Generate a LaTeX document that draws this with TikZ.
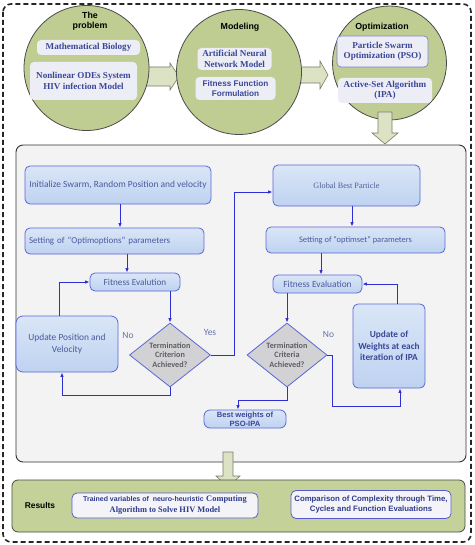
\documentclass[tikz,border=0pt]{standalone}
\usepackage{fontspec}
\setmainfont{Liberation Serif}
\setsansfont{Liberation Sans}
\newfontfamily\calib{Carlito}
\usetikzlibrary{shapes.geometric,arrows.meta}
\definecolor{circfill}{HTML}{BFCD93}
\definecolor{circdraw}{HTML}{4A4A4A}
\definecolor{pillfill}{HTML}{EDEDF6}
\definecolor{pilltext}{HTML}{3A4798}
\definecolor{arrfill}{HTML}{DCE3C4}
\definecolor{arrdraw}{HTML}{7A7A6A}
\definecolor{bigfill}{HTML}{F3F3F3}
\definecolor{flowtop}{HTML}{DAE6F7}
\definecolor{flowbot}{HTML}{BED2F0}
\definecolor{flowdraw}{HTML}{5A68D8}
\definecolor{flowtext}{HTML}{4A5A9E}
\definecolor{diafill}{HTML}{D2D2D4}
\definecolor{diatext}{HTML}{5E5E66}
\definecolor{connc}{HTML}{2F2FD6}
\definecolor{resfill}{HTML}{C4D29A}
\definecolor{resbox}{HTML}{F4F4F8}
\definecolor{resdraw}{HTML}{5A5AD0}
\definecolor{restext}{HTML}{2E3A8E}
\tikzset{
  x=1pt, y=-1pt,
  circ/.style={circle, draw=circdraw, fill=circfill, line width=0.8pt, inner sep=0pt},
  head/.style={font=\sffamily\bfseries\fontsize{8.8}{10}\selectfont, text=black, align=center, inner sep=0pt},
  pill/.style={fill=pillfill, rounded corners=4pt, inner sep=0pt, text=pilltext, align=center,
     font=\rmfamily\bfseries\fontsize{9.1}{10.5}\selectfont},
  pillsans/.style={pill, font=\sffamily\bfseries\fontsize{8.2}{10.5}\selectfont},
  blockarrow/.style={fill=arrfill, draw=arrdraw, line width=0.6pt, line join=miter},
  bigbox/.style={draw=black!80, fill=bigfill, line width=0.9pt, rounded corners=7pt},
  fbox/.style={draw=flowdraw, top color=flowtop, bottom color=flowbot, line width=0.8pt, rounded corners=5pt, inner sep=0pt,
     text=flowtext, align=center, font=\calib\fontsize{9.2}{11}\selectfont},
  dia/.style={diamond, draw=flowdraw, fill=diafill, line width=0.8pt, inner sep=0pt},
  diatxt/.style={text=diatext, align=center, inner sep=0pt, font=\calib\bfseries\fontsize{8.2}{9.4}\selectfont},
  conn/.style={draw=connc, line width=0.9pt, -{Latex[length=4.5pt,width=3.5pt]}},
  lab/.style={text=flowtext!85, font=\calib\fontsize{9.5}{11}\selectfont, inner sep=0pt},
  rbox/.style={draw=resdraw, fill=resbox, line width=0.8pt, rounded corners=5pt, inner sep=0pt,
     text=restext, align=center},
}
\begin{document}
\begin{tikzpicture}
\useasboundingbox (0,0) rectangle (474,545);
% outer dashed frame
\draw[black!85, line width=1.6pt, dash pattern=on 5pt off 3pt, rounded corners=8pt] (3,4) rectangle (471,542);

% block arrows between circles
\draw[blockarrow] (140,67) -- (170,67) -- (170,63) -- (179,76.5) -- (170,90) -- (170,86) -- (140,86) -- cycle;
\draw[blockarrow] (296,67) -- (320,67) -- (320,61) -- (328,75) -- (320,89) -- (320,83) -- (296,83) -- cycle;

% circles
\node[circ, minimum size=125pt] (c1) at (86.5,68) {};
\node[circ, minimum size=125pt] (c2) at (239,72) {};
\node[circ, minimum size=114pt] (c3) at (389.5,63) {};

% arrow from circle 3 down
\draw[blockarrow] (378,112) -- (392,112) -- (392,133) -- (398,133) -- (385,144) -- (372,133) -- (378,133) -- cycle;

% circle contents
\node[head] (h1) at (90,21.5) {The\\problem};
\node[pill, minimum width=103pt, minimum height=15pt] (p11) at (88.5,47.5) {Mathematical Biology};
\node[pill, minimum width=107pt, minimum height=38pt] (p12) at (83.5,81) {Nonlinear ODEs System\\HIV infection Model};

\node[head] (h2) at (240,27) {Modeling};
\node[pill, minimum width=74pt, minimum height=22pt] (p21) at (234.5,59) {Artificial Neural\\Network Model};
\node[pillsans, minimum width=80pt, minimum height=23pt] (p22) at (235.5,88.5) {Fitness Function\\Formulation};

\node[head] (h3) at (382,27) {Optimization};
\node[pill, draw=black!35!blue!50, line width=0.7pt, minimum width=91pt, minimum height=31pt] (p31) at (382.5,51.5) {Particle Swarm\\Optimization (PSO)};
\node[pill, minimum width=94pt, minimum height=25pt] (p32) at (385,90.5) {Active-Set Algorithm\\(IPA)};

% big flowchart box
\draw[bigbox] (16,145) rectangle (466,462);

% left flowchart
\node[fbox, minimum width=186pt, minimum height=38pt, font=\calib\fontsize{9.4}{11}\selectfont] (init) at (118,185) {Initialize Swarm, Random Position and velocity};
\node[fbox, minimum height=26pt, text width=171pt, inner xsep=4pt, align=left, font=\calib\fontsize{9}{11}\selectfont] (optopt) at (114.5,241) {Setting of “Optimoptions” parameters};
\node[fbox, minimum width=90pt, minimum height=18pt] (fit1) at (135,282) {Fitness Evalution};
\node[fbox, minimum width=102pt, minimum height=56pt, rounded corners=7pt, font=\calib\fontsize{9.4}{11.5}\selectfont] (upd) at (67,344) {Update Position and\\Velocity};
\node[dia, minimum width=81pt, minimum height=64pt] (dia1) at (170,355) {};
\node[diatxt] (dia1t) at (170,355) {Termination\\Criterion\\Achieved?};
\node[lab] (yes) at (210,332) {Yes};
\node[lab] (no1) at (128,335) {No};

% right flowchart
\node[fbox, minimum width=147pt, minimum height=41pt, font=\rmfamily\fontsize{8.2}{10}\selectfont, text=flowtext!90!gray] (gbp) at (346.5,185.5) {Global Best Particle};
\node[fbox, minimum width=179pt, minimum height=26pt, font=\calib\fontsize{8.4}{10}\selectfont] (optset) at (355.5,240) {Setting of “optimset” parameters};
\node[fbox, minimum width=89pt, minimum height=18pt, font=\calib\fontsize{9.4}{11}\selectfont] (fit2) at (317.5,284) {Fitness Evaluation};
\node[dia, minimum width=80pt, minimum height=64pt] (dia2) at (287,355) {};
\node[diatxt] (dia2t) at (287,355) {Termination\\Criteria\\Achieved?};
\node[lab] (no2) at (328.5,334) {No};
\node[fbox, minimum width=72pt, minimum height=84pt, font=\calib\bfseries\fontsize{9.3}{11.3}\selectfont, text=pilltext] (updw) at (389,346) {Update of\\Weights at each\\iteration of IPA};
\node[fbox, minimum width=82pt, minimum height=18pt, rounded corners=6pt, font=\sffamily\bfseries\fontsize{7.6}{8.6}\selectfont, text=pilltext] (best) at (245,419) {Best weights of\\PSO-IPA};

% connectors left
\draw[conn] ([xshift=2pt]init.south) -- ([xshift=5.5pt]optopt.north);
\draw[conn] ([xshift=12.5pt]optopt.south) -- ([xshift=-8pt]fit1.north);
\draw[conn] ([xshift=35pt]fit1.south) -- (dia1.north);
\draw[conn] (dia1.south) -- ++(0,8) -| ([xshift=-5pt]upd.south);
\draw[conn] ([xshift=-8pt]upd.north) |- (fit1.west);
\draw[conn] (dia1.east) -- ++(24,0) |- ([yshift=-6.5pt]gbp.west);

% connectors right
\draw[conn] ([xshift=5.5pt]gbp.south) -- ([xshift=-3.5pt]optset.north);
\draw[conn] ([xshift=-34.5pt]optset.south) -- ([xshift=3.5pt]fit2.north);
\draw[conn] ([xshift=-30.5pt]fit2.south) -- (dia2.north);
\draw[conn] (dia2.south) -- ++(0,13) -| ([xshift=-7pt]best.north);
\draw[conn] (dia2.east) -- ++(5,0) -- ++(0,51) -| ([xshift=11pt]updw.south);
\draw[conn] ([xshift=8pt]updw.north) |- (fit2.east);

% arrow to results
\draw[blockarrow] (223,452) -- (233,452) -- (233,476) -- (240,476) -- (228,487) -- (216,476) -- (223,476) -- cycle;

% results band
\draw[draw=circdraw, fill=resfill, line width=0.8pt, rounded corners=6pt] (12,480) rectangle (465,532);
\node[font=\sffamily\bfseries\fontsize{8.4}{10}\selectfont, inner sep=0pt] (res) at (40,505) {Results};
\node[rbox, minimum width=186pt, minimum height=25pt] (r1) at (165,505.5) {{\sffamily\bfseries\fontsize{7}{9}\selectfont Trained variables of\ \ neuro-heuristic} {\rmfamily\bfseries\fontsize{8.4}{9}\selectfont Computing}\\[-1pt]{\rmfamily\bfseries\fontsize{8.4}{9}\selectfont Algorithm to Solve HIV Model}};
\node[rbox, minimum width=160pt, minimum height=28pt, font=\sffamily\bfseries\fontsize{7.8}{9.5}\selectfont] (r2) at (371,504.5) {Comparison of Complexity through Time,\\Cycles and Function Evaluations};
\end{tikzpicture}
\end{document}
